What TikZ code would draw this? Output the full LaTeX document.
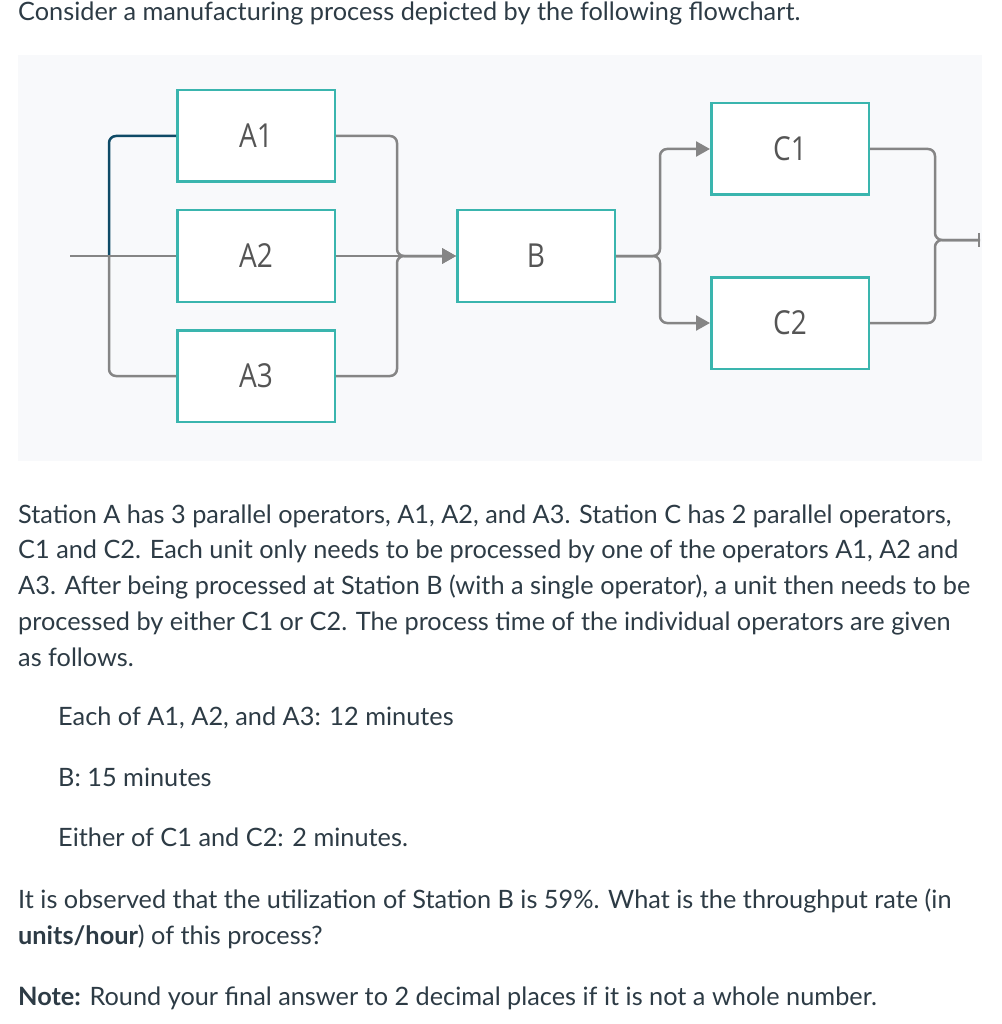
\documentclass[tikz,border=0pt]{standalone}
\usepackage{fontspec}
\setmainfont{Lato}
\newfontfamily\boxfont{Open Sans}
\usetikzlibrary{arrows.meta,calc}
\definecolor{panelbg}{HTML}{F8F9FB}
\definecolor{boxedge}{HTML}{3AB5AE}
\definecolor{wiregray}{HTML}{858585}
\definecolor{navy}{HTML}{0E4A66}
\definecolor{labelgray}{HTML}{555555}
\definecolor{bodytext}{HTML}{2D3B45}
\newcommand{\tallname}[1]{\scalebox{1}[1.18]{#1}}

\begin{document}
\begin{tikzpicture}[x=1pt,y=-1pt,
  station/.style={draw=boxedge,line width=2.5pt,fill=white,minimum width=157.5pt,minimum height=91.5pt,inner sep=0pt,font=\boxfont\fontsize{28}{28}\selectfont,text=labelgray},
  wire/.style={draw=wiregray,line width=2.5pt,rounded corners=7pt},
  feed/.style={wire,-{Triangle[length=14pt,width=15pt]}},
  txt/.style={anchor=base west,inner sep=0pt,align=left,font=\fontsize{25.3}{35.75}\selectfont,text=bodytext}]
\useasboundingbox (0,0) rectangle (1001,1024);
\node[txt] (title) at (18,21) {Consider a manufacturing process depicted by the following flowchart.};
\fill[panelbg] (18,55) rectangle (982,461);
% stations
\node[station] (A1) at (256,136) {\tallname{A1}};
\node[station] (A2) at (256,256) {\tallname{A2}};
\node[station] (A3) at (256,376) {\tallname{A3}};
\node[station] (B) at (536,256) {\tallname{B}};
\node[station] (C1) at (790,149) {\tallname{C1}};
\node[station] (C2) at (790,323) {\tallname{C2}};
% split and join points
\coordinate (in) at (70,256);
\coordinate (splitA) at (109,256);
\coordinate (joinA) at (397,256);
\coordinate (splitB) at (660,256);
\coordinate (joinC) at (935,240);
\coordinate (out) at (980,240);
\draw[wire,draw=navy] (splitA) |- (A1.west);
\draw[wire] (splitA) |- (A3.west);
\draw[wire] (in) -- (A2.west);
\draw[feed] (A1.east) -| (joinA) -- (B.west);
\draw[feed] (A3.east) -| (joinA) -- (B.west);
\draw[feed] (A2.east) -- (B.west);
\draw[feed] (B.east) -- (splitB) |- (C1.west);
\draw[feed] (B.east) -- (splitB) |- (C2.west);
\draw[wire] (C1.east) -| (joinC) -- (out);
\draw[wire,-{Bar[width=14pt]}] (C2.east) -| (joinC) -- (out);
% question text (base anchor sits on the last line)
\node[txt] (para) at (18,666) {Station A has 3 parallel operators, A1, A2, and A3. Station C has 2 parallel operators,\\
C1 and C2. Each unit only needs to be processed by one of the operators A1, A2 and\\
A3. After being processed at Station B (with a single operator), a unit then needs to be\\
processed by either C1 or C2. The process time of the individual operators are given\\
as follows.};
\node[txt] (timeA) at (58,725) {Each of A1, A2, and A3: 12 minutes};
\node[txt] (timeB) at (58,786) {B: 15 minutes};
\node[txt] (timeC) at (58,846) {Either of C1 and C2: 2 minutes.};
\node[txt] (ask) at (18,944) {It is observed that the utilization of Station B is 59\%. What is the throughput rate (in\\
\textbf{units/hour}) of this process?};
\node[txt] (note) at (18,1005) {\textbf{Note:} Round your final answer to 2 decimal places if it is not a whole number.};
\end{tikzpicture}
\end{document}
